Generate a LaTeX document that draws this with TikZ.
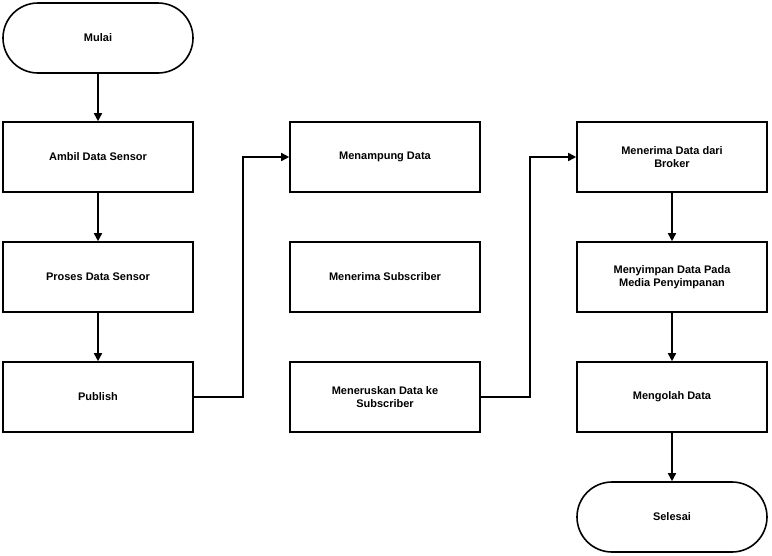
\documentclass[tikz,border=0pt]{standalone}
\usepackage{fontspec}
\setmainfont{Liberation Sans}
\usetikzlibrary{positioning,arrows.meta}
\tikzset{
    stepbox/.style={draw,line width=1.6pt,minimum width=190pt,minimum height=70pt,align=center,font=\bfseries\fontsize{11}{13}\selectfont},
    endbox/.style={stepbox,rounded corners=35pt},
    flow/.style={line width=1.6pt,-{Triangle[length=8pt,width=8pt]}}
}
\begin{document}
\begin{tikzpicture}[x=1pt,y=1pt]
\useasboundingbox (0,0) rectangle (772,-555);

% Client column
\node[endbox] (mulai) at (98,-38) {Mulai};
\node[stepbox] (ambil) at (98,-157) {Ambil Data Sensor};
\node[stepbox] (proses) at (98,-277) {Proses Data Sensor};
\node[stepbox] (publish) at (98,-397) {Publish};

% Broker column
\node[stepbox] (tampung) at (385,-157) {Menampung Data};
\node[stepbox] (terima) at (385,-277) {Menerima Subscriber};
\node[stepbox] (terus) at (385,-397) {Meneruskan Data ke\\Subscriber};

% Subscriber column
\node[stepbox] (broker) at (672,-157) {Menerima Data dari\\Broker};
\node[stepbox] (simpan) at (672,-277) {Menyimpan Data Pada\\Media Penyimpanan};
\node[stepbox] (olah) at (672,-397) {Mengolah Data};
\node[endbox] (selesai) at (672,-517) {Selesai};

% Connectors
\draw[flow] (mulai) -- (ambil);
\draw[flow] (ambil) -- (proses);
\draw[flow] (proses) -- (publish);
\draw[flow] (publish.east) -| ++(49,0) |- (tampung.west);
\draw[flow] (terus.east) -| ++(49,0) |- (broker.west);
\draw[flow] (broker) -- (simpan);
\draw[flow] (simpan) -- (olah);
\draw[flow] (olah) -- (selesai);

\end{tikzpicture}
\end{document}
